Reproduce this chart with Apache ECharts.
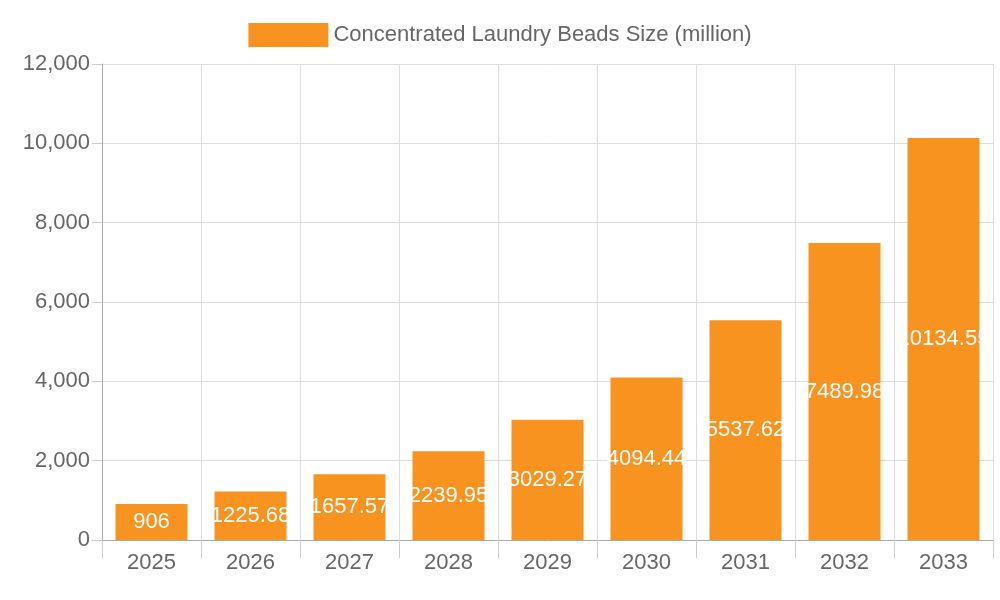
<!DOCTYPE html>
<html><head><meta charset="utf-8">
<script src="https://cdn.jsdelivr.net/npm/echarts@6/dist/echarts.min.js"></script>
<style>html,body{margin:0;padding:0;background:#fff}#c{width:1000px;height:600px}</style>
</head><body><div id="c"></div>
<script>
const categories = ['2025','2026','2027','2028','2029','2030','2031','2032','2033'];
const values = [906, 1225.68, 1657.57, 2239.95, 3029.27, 4094.44, 5537.62, 7489.98, 10134.55];
const seriesName = 'Concentrated Laundry Beads Size (million)';
const chart = echarts.init(document.getElementById('c'));
chart.setOption({
  animation: false,
  textStyle: {fontFamily: 'Liberation Sans, Arial, sans-serif'},
  legend: {top: 18, left: 'center', itemWidth: 80, itemHeight: 24, itemGap: 10,
    textStyle: {fontSize: 22, color: '#666'}, icon: 'rect'},
  grid: {left: 102, right: 7, top: 64, bottom: 60, containLabel: false},
  xAxis: {type: 'category', data: categories,
    axisLine: {lineStyle: {color: '#aaa'}},
    axisTick: {show: true, length: 18, lineStyle: {color: '#ccc'}},
    splitLine: {show: true, lineStyle: {color: '#ddd'}},
    axisLabel: {fontSize: 22, color: '#666', margin: 12}},
  yAxis: {type: 'value', min: 0, max: 12000, interval: 2000,
    axisLine: {show: true, lineStyle: {color: '#aaa'}},
    axisTick: {show: true, length: 10, lineStyle: {color: '#ccc'}},
    splitLine: {lineStyle: {color: '#ddd'}},
    axisLabel: {fontSize: 22, color: '#666', margin: 12}},
  series: [{name: seriesName, type: 'bar', data: values, barWidth: 72,
    itemStyle: {color: '#f7931e'},
    label: {show: true, position: 'inside', color: '#fff', fontSize: 22}}]
});
</script></body></html>
